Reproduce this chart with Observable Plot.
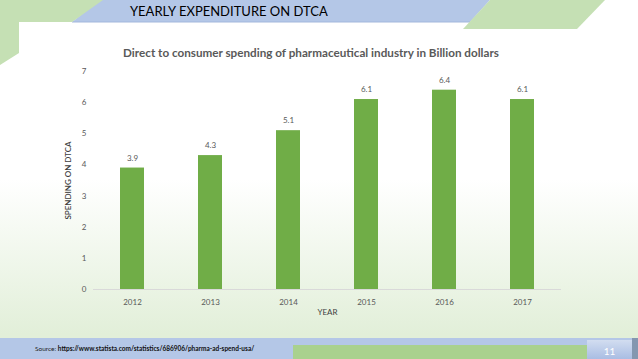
<!DOCTYPE html>
<html>
<head>
<meta charset="utf-8">
<script src="https://cdn.jsdelivr.net/npm/d3@7"></script>
<script src="https://cdn.jsdelivr.net/npm/@observablehq/plot@0.6"></script>
<style>
  html, body { margin: 0; padding: 0; width: 638px; height: 359px; overflow: hidden; }
  body { position: relative; font-family: Lato, "Open Sans", sans-serif; }
  #bg { position: absolute; left: 0; top: 0; }
  #chart { position: absolute; left: 0; top: 0; }
  .abs { position: absolute; white-space: nowrap; }
  #header { left: 130px; top: 3px; font-size: 13px; color: #000; }
  #ctitle { left: 0; width: 622px; text-align: center; top: 45px; font-size: 11.7px; font-weight: bold; color: #595959; }
  #source { left: 35px; top: 345px; font-size: 6.5px; color: #222; }
  #source b { color: #111; }
  #page { left: 587px; width: 45px; text-align: center; top: 345px; font-size: 10px; color: #fff; }
</style>
</head>
<body>
<svg id="bg" width="638" height="359">
  <defs>
    <linearGradient id="g" x1="0" y1="0" x2="0" y2="1">
      <stop offset="0" stop-color="#ffffff"/>
      <stop offset="0.5" stop-color="#ffffff"/>
      <stop offset="0.93" stop-color="#e2efd9"/>
    </linearGradient>
    <linearGradient id="pg" x1="0" y1="0" x2="0" y2="1">
      <stop offset="0" stop-color="#d2ddf0"/>
      <stop offset="1" stop-color="#a9bde3"/>
    </linearGradient>
  </defs>
  <rect x="0" y="0" width="638" height="359" fill="url(#g)"/>
  <polygon points="100,0 490,0 470,22 72,22" fill="#b4c7e7"/>
  <line x1="72" y1="22" x2="470" y2="22" stroke="#a3b7dc" stroke-width="1"/>
  <polygon points="0,0 103,0 72,22 19,22 19,53 0,65" fill="#c5e0b4"/>
  <polygon points="490,0 605,0 577,29 463,29" fill="#c5e0b4"/>
  <rect x="0" y="338" width="638" height="21" fill="#b4c7e7"/>
  <rect x="293" y="345" width="294" height="14" fill="#a9d18e"/>
  <rect x="587" y="340" width="45" height="19" fill="url(#pg)"/>
  <rect x="632" y="338" width="6" height="21" fill="#8497b0"/>
</svg>
<div id="chart"></div>
<div class="abs" id="header">YEARLY EXPENDITURE ON DTCA</div>
<div class="abs" id="ctitle">Direct to consumer spending of pharmaceutical industry in Billion dollars</div>
<div class="abs" id="source">Source: <b>https://www.statista.com/statistics/686906/pharma-ad-spend-usa/</b></div>
<div class="abs" id="page">11</div>
<script>
const years = ["2012", "2013", "2014", "2015", "2016", "2017"];
const spending = [3.9, 4.3, 5.1, 6.1, 6.4, 6.1];
const yTicks = [0, 1, 2, 3, 4, 5, 6, 7];

const data = years.map((y, i) => ({year: y, value: spending[i]}));

const chart = Plot.plot({
  width: 638,
  height: 359,
  marginTop: 71,
  marginBottom: 70,
  marginLeft: 93,
  marginRight: 77,
  style: {background: "transparent", fontFamily: "Lato, 'Open Sans', sans-serif", fontSize: "8px", color: "#595959"},
  x: {domain: years, paddingInner: 0.69, paddingOuter: 0.345, label: null},
  y: {domain: [0, 7], label: null},
  marks: [
    Plot.ruleY([0], {stroke: "#d9d9d9"}),
    Plot.barY(data, {x: "year", y: "value", fill: "#70ad47"}),
    Plot.text(data, {x: "year", y: "value", text: d => d.value.toFixed(1), dy: -10, fill: "#595959", fontSize: 8}),
    Plot.axisX({tickSize: 0, tickPadding: 10, label: null, fill: "#595959"}),
    Plot.axisY({ticks: yTicks, tickFormat: "d", tickSize: 0, tickPadding: 7, label: null, fill: "#595959"}),
    Plot.text(["YEAR"], {frameAnchor: "bottom", dy: 25, fill: "#404040", fontSize: 8}),
    Plot.text(["SPENDING ON DTCA"], {frameAnchor: "left", textAnchor: "middle", dx: -25, rotate: -90, fill: "#404040", fontSize: 8, fontWeight: 600})
  ]
});
document.getElementById("chart").appendChild(chart);
</script>
</body>
</html>
